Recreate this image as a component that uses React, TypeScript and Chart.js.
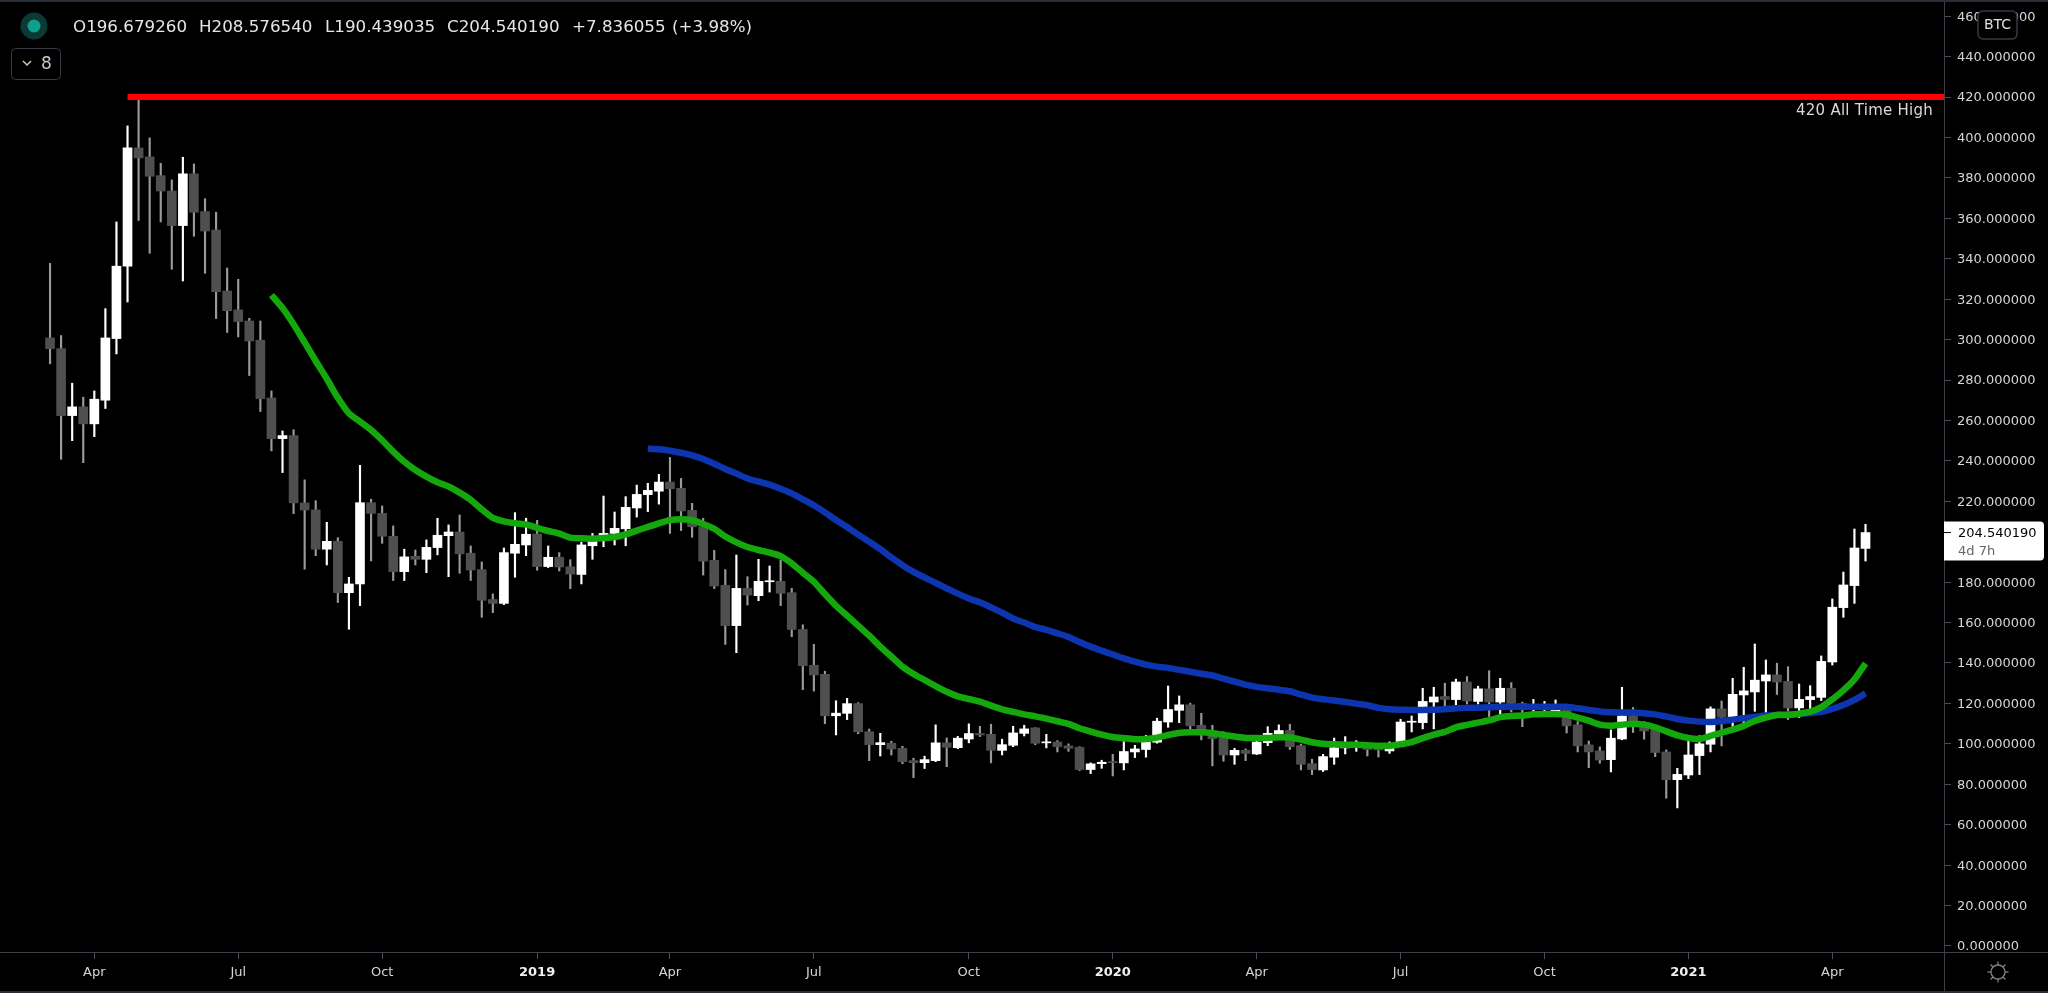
import React, { useEffect, useRef } from 'react';
import { Chart, registerables } from 'chart.js';

Chart.register(...registerables);

// weekly candles, index 0 = 2018-03-05
const opens = [
  300.8, 295.5, 262.4, 266.7, 258.3, 270, 300.5, 336.3, 394.8, 390.4,
  381.1, 373.5, 356.4, 382, 363.3, 354.2, 324, 314.7, 309.2, 299.7,
  271.1, 251, 252.5, 219.2, 215.7, 196.3, 200.2, 174.8, 179.1, 219.3,
  214, 202.7, 185.2, 192.8, 191.3, 197.1, 203, 204.8, 194.3, 186.2,
  171.4, 169.5, 194.3, 198.4, 203.8, 187.7, 192.3, 187.6, 183.8, 198,
  202.2, 204.1, 206.4, 216.7, 223.3, 225, 229.5, 226.4, 215.5, 207.4,
  190.8, 178.4, 158.5, 176.9, 173.3, 180.2, 180.4, 174.8, 156.6, 138.9,
  134.4, 113.9, 115.1, 119.9, 106, 99.6, 100.3, 97.8, 91.7, 90.7,
  91.7, 100.5, 98.1, 102.4, 105.1, 104.7, 96.8, 99.3, 105.2, 107.9,
  100.5, 100.9, 99, 98.3, 87.3, 90.2, 91, 90.6, 96, 97.2,
  100.8, 110.8, 116.6, 119.3, 109.2, 106.5, 102.9, 94.5, 96.8, 95,
  100.6, 104.9, 106.6, 99.1, 90.2, 87.1, 93.4, 98, 98.8, 98.6,
  98.3, 96.5, 100.6, 110.7, 110.5, 120.7, 123.4, 121.9, 130.6, 121,
  127.2, 120.7, 127.5, 120, 117.5, 117, 116, 117, 109.4, 99.5,
  96.5, 92.2, 102.4, 113.8, 110.5, 106.9, 96, 82.3, 84.6, 94.2,
  99.8, 117.3, 113.5, 124.2, 125.7, 131.1, 134.1, 130.9, 117.8, 121.9,
  123, 140.5, 167.4, 178.3, 196.68,
];
const closes = [
  295.5, 262.4, 266.7, 258.3, 270.5, 300.8, 336.3, 394.8, 389.9, 380.8,
  373.5, 356.4, 382, 363, 353.7, 323.7, 314.3, 308.9, 299.3, 270.8,
  251, 252.5, 219.2, 215.7, 196.3, 200.2, 174.8, 179.1, 219.3, 214,
  202.7, 185.2, 192.5, 191.3, 197.2, 203.2, 204.8, 194, 186, 171,
  169.5, 194.6, 198.7, 203.7, 187.7, 192.3, 187.5, 184, 198.4, 200.5,
  204.1, 206.6, 217, 223.4, 225.4, 229.5, 226.2, 215.2, 207.4, 190.4,
  178.1, 158.5, 176.9, 173.6, 180.4, 180.6, 174.5, 156.6, 138.7, 134.1,
  113.9, 115.2, 119.9, 105.9, 99.6, 100.6, 97.5, 91.2, 90.7, 92.2,
  100.5, 98.3, 102.8, 105.1, 104.4, 96.8, 99.6, 105.4, 107.4, 100.3,
  100.9, 98.6, 97.8, 87.3, 90.1, 90.9, 90.7, 96.2, 97.5, 100.9,
  111.2, 117, 119.3, 108.9, 106, 102.6, 94.5, 96.8, 95.3, 100.9,
  105.2, 106.6, 98.6, 89.9, 87.3, 93.7, 98.1, 99, 99.3, 97.2,
  97, 99.9, 110.8, 111.2, 121, 123.2, 122, 130.6, 121.2, 127.2,
  120.7, 127.5, 120, 117, 119, 119, 118.5, 108.9, 99, 96,
  92, 102.8, 113.8, 110.5, 106.4, 95.7, 82.3, 84.9, 94.5, 100,
  117.3, 113.2, 124.5, 126.2, 131.5, 134.1, 130.6, 117.8, 122, 123.4,
  140.8, 167.6, 178.6, 196.9, 204.54,
];
const highs = [
  337.7, 302, 278.4, 271.5, 274.6, 315.3, 358.2, 405.7, 420.5, 399.8,
  387.2, 379, 390.2, 386.9, 369.7, 363, 335.4, 329.8, 310.5, 309.2,
  274.6, 254.8, 255.4, 230.6, 220.3, 209.6, 202, 182.4, 237.8, 221,
  217.7, 207.8, 196.3, 195.9, 200.9, 211.6, 208.3, 213.2, 197.9, 190,
  174.2, 196.9, 214.4, 211.6, 210.6, 197.9, 194.6, 191.1, 199.8, 204.1,
  222.6, 214.7, 222.3, 228, 228.9, 233.3, 241.7, 231.3, 219, 211.6,
  195.7, 186.2, 193.4, 182.7, 191.3, 188, 191, 176.9, 158.9, 149.2,
  135.9, 121.3, 122.5, 120.4, 107.3, 105.2, 101.3, 98.8, 92.9, 93.9,
  109.4, 102.9, 103.7, 109.9, 108.7, 109.7, 102.3, 108.7, 109.2, 108,
  104.7, 101.6, 100, 98.6, 90.6, 91.9, 94.8, 101.1, 99.3, 104.2,
  112.7, 128.6, 123.7, 120.1, 115.1, 109.2, 106, 97.8, 97.5, 104,
  108.5, 109.4, 109.7, 99.8, 92.4, 94.8, 102.9, 103.6, 101.6, 100.3,
  100, 101, 112.2, 113.8, 127.5, 128, 130, 132, 133.3, 128.5,
  136.2, 132.4, 130.3, 120.7, 122, 121, 121.7, 117, 111, 101.4,
  98.5, 106.9, 128, 118, 111, 108.5, 97, 87.9, 101.6, 104,
  118.3, 121.2, 132.4, 137.9, 149.4, 141.5, 139.9, 138.2, 129.6, 128.8,
  143.5, 171.7, 185, 206.3, 208.58,
];
const lows = [
  288, 240.8, 250, 239.1, 252, 265.9, 292.9, 318.6, 358.9, 342.7,
  358.2, 334.8, 329, 351.1, 332.8, 310.4, 303.5, 301.3, 282.2, 264.4,
  244.9, 234.2, 213.9, 186.4, 193.1, 188.5, 169.9, 156.7, 168.4, 190.5,
  199.2, 180.8, 180.8, 188.5, 184.7, 193.5, 182.7, 184.4, 180.8, 162.6,
  164.9, 168.9, 182.4, 193.1, 185.9, 187.2, 185.5, 176.8, 179.1, 191.3,
  197.5, 198.4, 198, 212.2, 214.9, 218.6, 204.1, 205.5, 202.2, 183.5,
  176.8, 149.2, 145.1, 168.7, 170.8, 175.1, 168.4, 153, 126.8, 126.1,
  110, 104.4, 112, 105, 91.7, 94, 94.5, 90.2, 83.3, 87.8,
  91.2, 88.7, 97.6, 100.5, 103.6, 90.6, 94.5, 98.6, 103.9, 99.6,
  98, 96, 96.3, 86.8, 85.3, 87.9, 84.1, 87.1, 93.2, 93.4,
  100.3, 108.2, 110.5, 107.4, 102, 89.1, 91.4, 89.9, 91.7, 94.7,
  99.1, 103.8, 97.2, 87.1, 84.8, 86.3, 89.9, 95, 96.3, 94,
  93.5, 95.3, 100.3, 105.9, 107.4, 107.4, 118, 119.3, 119.7, 119.7,
  113.5, 114.8, 115.8, 108.5, 115, 115, 115, 105.4, 96, 88.2,
  90.4, 86.1, 102, 105.6, 102.3, 93.7, 73.1, 68.3, 82.8, 84.8,
  96, 99, 108.5, 109.8, 116.1, 115.1, 124.4, 112, 113, 116.8,
  121.4, 139, 162.6, 169.5, 190.44,
];

// moving averages, first value belongs to candle greenStart / blueStart
const greenStart = 20;
const greenMa = [
  322, 315.6, 307.6, 298.6, 289.4, 280.6, 271.2, 263.5, 259.4, 255.3,
  250.2, 244.6, 239.6, 235.5, 232.2, 229.4, 227.3, 224.3, 220.7, 216,
  211.8, 210.1, 209.1, 208.6, 206.8, 205.3, 204, 202, 201.7, 201.5,
  201.8, 202.3, 203.6, 205.5, 207.3, 209.1, 210.7, 211.1, 210.6, 208.8,
  206.4, 202.6, 199.7, 197.4, 195.9, 194.6, 192.9, 189.3, 184.7, 180.2,
  174.1, 168.3, 163.4, 158.5, 153.5, 148.1, 143.2, 138.2, 134.6, 131.6,
  128.6, 125.8, 123.5, 122.2, 120.9, 118.9, 117.1, 115.8, 114.6, 113.6,
  112.5, 111.2, 109.9, 107.7, 106.1, 104.6, 103.4, 102.8, 102.3, 102.4,
  103.1, 104.4, 105.4, 105.7, 105.7, 105.2, 104.4, 103.6, 102.9, 102.9,
  102.9, 103.3, 103.1, 102.1, 100.8, 100, 99.8, 99.6, 99.5, 99.3,
  99.1, 99.1, 99.8, 100.9, 102.8, 104.6, 105.9, 108.2, 109.4, 110.5,
  111.6, 113.2, 113.8, 114, 114.6, 114.8, 114.8, 114.5, 113, 111.5,
  109.5, 109, 109.5, 110, 109.5, 108.2, 106.2, 104.2, 102.9, 102.4,
  103.9, 105.6, 107, 108.9, 111.3, 113, 114.3, 114.3, 114.9, 115.9,
  118.2, 122, 126.5, 131.9, 139.8,
];
const blueStart = 54;
const blueMa = [
  246, 245.7, 245, 244, 242.7, 240.9,
  238.6, 236, 233.7, 231.3, 229.7, 228.2, 226.2, 223.9, 221, 218,
  214.5, 210.7, 207.3, 203.5, 200, 196.3, 192.2, 188.4, 185.1, 182.3,
  179.7, 176.9, 174.3, 171.9, 170, 167.5, 164.9, 162, 160, 157.8,
  156.4, 154.7, 152.9, 150.4, 148.1, 146.1, 144.2, 142.3, 140.7, 139.2,
  138.2, 137.6, 136.6, 135.7, 134.7, 133.8, 132.3, 130.8, 129.3, 128.2,
  127.5, 126.8, 126, 124.4, 122.9, 122.1, 121.4, 120.7, 119.9, 119.1,
  117.8, 117.1, 116.9, 116.8, 116.8, 116.9, 117.1, 117.6, 117.8, 117.9,
  118.1, 118.3, 118.4, 118.4, 118.4, 118.4, 118.4, 118.3, 117.6, 116.8,
  116, 115.6, 115.5, 115.5, 115.1, 114.6, 113.5, 112.3, 111.5, 111,
  110.8, 111.3, 112, 112.7, 113.3, 114, 114.3, 114.5, 114.8, 115.3,
  115.8, 117.3, 119.2, 121.7, 125,
];

const athValue = 420;
const athStart = 7;
const athLabel = '420 All Time High';

const xTickIndices = [4, 17, 30, 44, 56, 69, 83, 96, 109, 122, 135, 148, 161];
const xTickLabels = ['Apr', 'Jul', 'Oct', '2019', 'Apr', 'Jul', 'Oct', '2020', 'Apr', 'Jul', 'Oct', '2021', 'Apr'];
const yTickValues = [
  0, 20, 40, 60, 80, 100, 120, 140, 160, 180, 200, 220, 240, 260, 280, 300, 320, 340, 360, 380, 400, 420, 440, 460,
];

const legendItems = ['O196.679260', 'H208.576540', 'L190.439035', 'C204.540190', '+7.836055', '(+3.98%)'];
const legendX = [73, 199, 325, 447, 572, 672];
const lastPriceText = '204.540190';

const xMin = -4.52;
const xMax = 171.09;
const yMin = -2.97;
const yMax = 467;
const FONT = '"DejaVu Sans", sans-serif';

const isUp = (i: number) => closes[i] >= opens[i];
const isYearTick = (c: any) => String(xTickLabels[xTickIndices.indexOf(c.tick?.value)]).length === 4;

// the axes are pinned, tick labels must not push the chart area inwards
const noPadding = (scale: any) => {
  scale.paddingTop = 0;
  scale.paddingBottom = 0;
  scale.paddingLeft = 0;
  scale.paddingRight = 0;
};

const chrome = {
  id: 'chrome',
  beforeDraw(chart: any) {
    const { ctx, width, height, chartArea } = chart;
    ctx.save();
    ctx.fillStyle = '#000000';
    ctx.fillRect(0, 0, width, height);
    ctx.fillStyle = '#2a2e39';
    ctx.fillRect(0, 0, width, 2);
    ctx.fillRect(0, height - 2, width, 2);
    ctx.strokeStyle = '#3c3f47';
    ctx.lineWidth = 1;
    ctx.beginPath();
    ctx.moveTo(chartArea.right + 0.5, 2);
    ctx.lineTo(chartArea.right + 0.5, height - 2);
    ctx.moveTo(0, chartArea.bottom + 0.5);
    ctx.lineTo(width, chartArea.bottom + 0.5);
    ctx.stroke();
    ctx.restore();
  },
  afterDraw(chart: any) {
    const { ctx, scales, chartArea } = chart;
    ctx.save();
    ctx.textBaseline = 'middle';

    // status dot
    ctx.fillStyle = '#0b3a35';
    ctx.beginPath();
    ctx.arc(34, 26, 13.5, 0, Math.PI * 2);
    ctx.fill();
    ctx.fillStyle = '#0e9f8e';
    ctx.beginPath();
    ctx.arc(34, 26, 6.5, 0, Math.PI * 2);
    ctx.fill();

    // ohlc legend
    ctx.font = `16.7px ${FONT}`;
    ctx.fillStyle = '#e6e6e6';
    legendItems.forEach((t, i) => ctx.fillText(t, legendX[i], 28));

    // collapsed indicators button
    ctx.strokeStyle = '#363a45';
    ctx.lineWidth = 1;
    ctx.beginPath();
    ctx.roundRect(11.5, 48.5, 49, 31, 4);
    ctx.stroke();
    ctx.strokeStyle = '#c8c8c8';
    ctx.lineWidth = 1.5;
    ctx.beginPath();
    ctx.moveTo(23, 61);
    ctx.lineTo(27, 65);
    ctx.lineTo(31, 61);
    ctx.stroke();
    ctx.fillStyle = '#c8c8c8';
    ctx.font = `17px ${FONT}`;
    ctx.fillText('8', 41, 65);

    // line label
    const athY = scales.y.getPixelForValue(athValue);
    ctx.font = `15px ${FONT}`;
    ctx.letterSpacing = '0.25px';
    ctx.fillStyle = '#d8d8d8';
    ctx.textAlign = 'right';
    ctx.fillText(athLabel, 1933, athY + 14);
    ctx.letterSpacing = '0px';
    ctx.textAlign = 'left';

    // symbol badge on the price axis
    ctx.fillStyle = '#000000';
    ctx.strokeStyle = '#363a45';
    ctx.lineWidth = 1.5;
    ctx.beginPath();
    ctx.roundRect(1978, 11, 39, 28, 5);
    ctx.fill();
    ctx.stroke();
    ctx.fillStyle = '#e0e0e0';
    ctx.font = `14px ${FONT}`;
    ctx.textAlign = 'center';
    ctx.fillText('BTC', 1997.5, 25.5);
    ctx.textAlign = 'left';

    // last price label
    const lastY = scales.y.getPixelForValue(closes[closes.length - 1]);
    const ax = chartArea.right;
    ctx.fillStyle = '#ffffff';
    ctx.beginPath();
    ctx.roundRect(ax, lastY - 11, 100, 39, [0, 4, 4, 0]);
    ctx.fill();
    ctx.fillStyle = '#000000';
    ctx.fillRect(ax, lastY - 0.5, 7, 1);
    ctx.font = `13px ${FONT}`;
    ctx.fillText(lastPriceText, ax + 14, lastY + 1);
    ctx.fillStyle = '#666666';
    ctx.fillText('4d 7h', ax + 14, lastY + 19);

    // settings sun icon
    const cx = 1998;
    const cy = 972;
    ctx.strokeStyle = '#80838c';
    ctx.lineWidth = 1.3;
    ctx.beginPath();
    ctx.arc(cx, cy, 7, 0, Math.PI * 2);
    ctx.stroke();
    for (let k = 0; k < 8; k++) {
      const a = (k * Math.PI) / 4 + Math.PI / 2;
      ctx.beginPath();
      ctx.moveTo(cx + Math.cos(a) * 7, cy + Math.sin(a) * 7);
      ctx.lineTo(cx + Math.cos(a) * 10.5, cy + Math.sin(a) * 10.5);
      ctx.stroke();
    }
    ctx.restore();
  },
};

const App = () => {
  const canvasDom = useRef<HTMLCanvasElement>(null);
  useEffect(() => {
    if (!canvasDom.current) {
      return;
    }
    const myChart = new Chart(canvasDom.current, {
      type: 'bar',
      data: {
        datasets: [
          {
            type: 'line',
            label: 'ATH',
            data: [
              { x: athStart, y: athValue },
              { x: xMax, y: athValue },
            ],
            borderColor: '#ff0000',
            borderWidth: 6,
            pointRadius: 0,
            order: 0,
          },
          {
            type: 'line',
            label: 'MA green',
            data: greenMa.map((y, i) => ({ x: greenStart + i, y })),
            borderColor: '#14a80c',
            borderWidth: 6.5,
            pointRadius: 0,
            tension: 0.2,
            order: 1,
          },
          {
            type: 'line',
            label: 'MA blue',
            data: blueMa.map((y, i) => ({ x: blueStart + i, y })),
            borderColor: '#0d35b0',
            borderWidth: 6.5,
            pointRadius: 0,
            tension: 0.2,
            order: 2,
          },
          {
            label: 'Body',
            data: opens.map((o, i) => ({ x: i, y: [o, closes[i]] })),
            backgroundColor: opens.map((_, i) => (isUp(i) ? '#ffffff' : '#4f4f4f')),
            barThickness: 9,
            grouped: false,
            minBarLength: 1,
            order: 3,
          },
          {
            label: 'Wick',
            data: lows.map((l, i) => ({ x: i, y: [l, highs[i]] })),
            backgroundColor: lows.map((_, i) => (isUp(i) ? '#ffffff' : '#9a9a9a')),
            barThickness: 1.5,
            grouped: false,
            order: 4,
          },
        ] as any,
      },
      options: {
        responsive: false,
        animation: false,
        events: [],
        layout: { padding: { top: 2, bottom: 2, left: 0, right: 0 } },
        plugins: {
          legend: { display: false },
          tooltip: { enabled: false },
        },
        scales: {
          x: {
            type: 'linear',
            min: xMin,
            max: xMax,
            offset: false,
            afterBuildTicks: (scale: any) => {
              scale.ticks = xTickIndices.map((value) => ({ value }));
            },
            afterFit: (scale: any) => {
              scale.height = 39;
              noPadding(scale);
            },
            border: { display: false },
            grid: {
              offset: false,
              drawOnChartArea: false,
              tickLength: 7,
              tickColor: '#4a4d55',
            },
            ticks: {
              autoSkip: false,
              maxRotation: 0,
              padding: 6,
              color: (c: any) => (isYearTick(c) ? '#f0f0f0' : '#d6d6d6'),
              font: (c: any) => ({
                family: FONT,
                size: 13,
                weight: isYearTick(c) ? 'bold' : 'normal',
              }),
              callback: (value: any) => xTickLabels[xTickIndices.indexOf(value)],
            },
          },
          y: {
            type: 'linear',
            position: 'right',
            min: yMin,
            max: yMax,
            afterBuildTicks: (scale: any) => {
              scale.ticks = yTickValues.map((value) => ({ value }));
            },
            afterFit: (scale: any) => {
              scale.width = 104;
              noPadding(scale);
            },
            border: { display: false },
            grid: {
              drawOnChartArea: false,
              tickLength: 7,
              tickColor: '#4a4d55',
            },
            ticks: {
              padding: 6,
              labelOffset: 1,
              crossAlign: 'near',
              color: '#d6d6d6',
              font: { family: FONT, size: 13 },
              callback: (value: any) => Number(value).toFixed(6),
            },
          },
        },
      } as any,
      plugins: [chrome],
    });

    return () => {
      myChart.destroy();
    };
  }, []);

  return (
    <div style={{ position: 'absolute', left: 0, top: 0, width: 2048, height: 993, background: '#000' }}>
      <canvas ref={canvasDom} width={2048} height={993} style={{ display: 'block' }}></canvas>
    </div>
  );
};

export default App;
